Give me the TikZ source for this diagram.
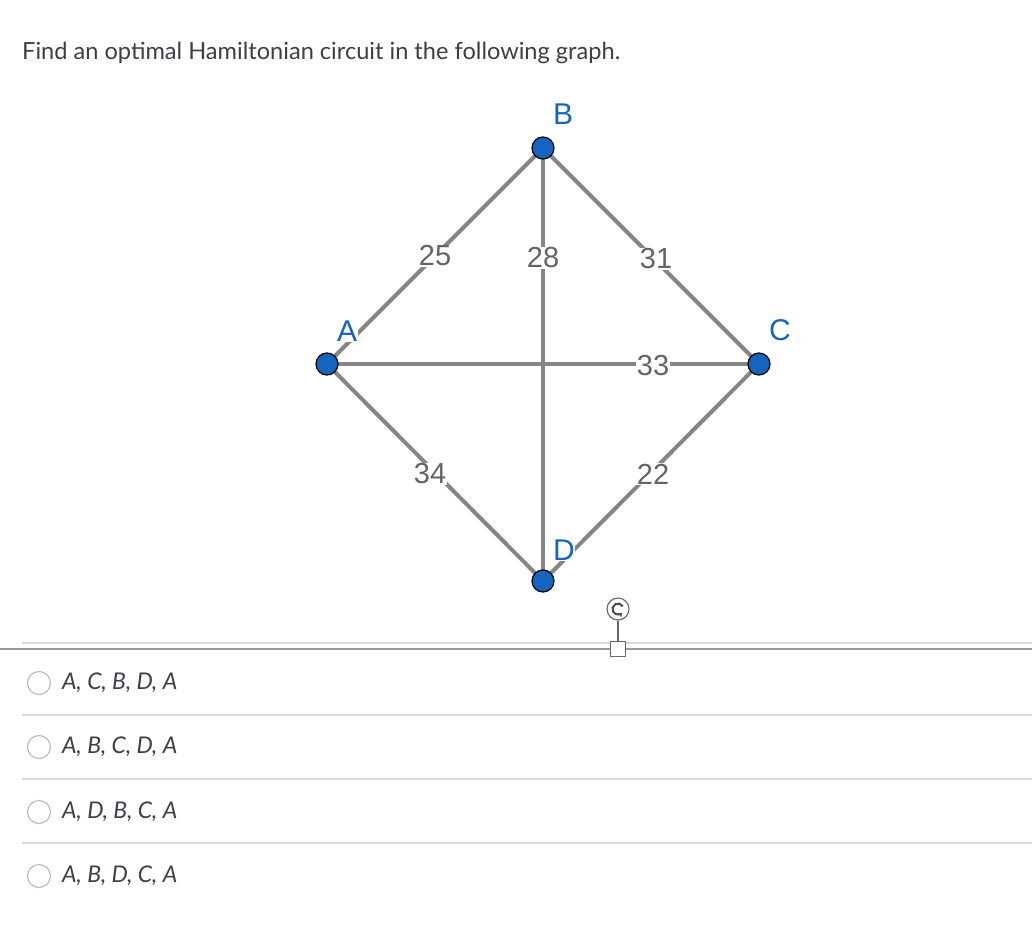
\documentclass[tikz,border=0pt]{standalone}
\usepackage{fontspec}
\usetikzlibrary{arrows.meta}
\setmainfont{Lato}
\newfontfamily\arialfont{Liberation Sans}
\definecolor{txt}{HTML}{3B4046}
\definecolor{vblue}{HTML}{1565C0}
\definecolor{edgegray}{HTML}{858585}
\definecolor{sepgray}{HTML}{D9D9D9}
\definecolor{radiogray}{HTML}{BDBDBD}
\tikzset{
  vertex/.style={circle,draw=black,line width=1.2pt,fill=vblue,minimum size=22pt,inner sep=0pt},
  vlabel/.style={text=vblue,fill=white,inner sep=0.5pt,font=\arialfont\fontsize{30}{32}\selectfont},
  elabel/.style={text=edgegray!75!black,fill=white,inner sep=0.5pt,font=\arialfont\fontsize{29}{31}\selectfont},
  edge/.style={draw=edgegray,line width=4pt},
  radio/.style={circle,draw=radiogray,line width=1.2pt,fill=white,minimum size=23pt,inner sep=0pt},
  option/.style={anchor=west,text=txt,inner sep=0pt,font=\fontsize{23}{27}\itshape\selectfont},
  sep/.style={draw=sepgray,line width=1.2pt}
}
\begin{document}
\begin{tikzpicture}[x=1pt,y=-1pt]
\useasboundingbox[fill=white] (0,0) rectangle (1032,936);
% title
\node[anchor=base west,inner sep=0pt,text=txt,font=\fontsize{23.6}{28}\selectfont] (title) at (22,60) {Find an optimal Hamiltonian circuit in the following graph.};
% vertices
\coordinate (pA) at (327,364);
\coordinate (pB) at (543,148);
\coordinate (pC) at (759,364);
\coordinate (pD) at (543,581);
% edges
\draw[edge] (pA) -- (pB);
\draw[edge] (pB) -- (pC);
\draw[edge] (pB) -- (pD);
\draw[edge] (pA) -- (pC);
\draw[edge] (pA) -- (pD);
\draw[edge] (pC) -- (pD);
% edge labels
\node[elabel] (l25) at (435,256) {25};
\node[elabel] (l28) at (543,258) {28};
\node[elabel] (l31) at (656,259) {31};
\node[elabel] (l33) at (653,366) {33};
\node[elabel] (l34) at (430,474) {34};
\node[elabel] (l22) at (653,474) {22};
% vertex labels
\node[vlabel] (tA) at (347,331) {A};
\node[vlabel] (tB) at (563,114) {B};
\node[vlabel] (tC) at (780,330) {C};
\node[vlabel] (tD) at (564,550) {D};
% vertex dots
\node[vertex] (A) at (pA) {};
\node[vertex] (B) at (pB) {};
\node[vertex] (C) at (pC) {};
\node[vertex] (D) at (pD) {};
% separators near widget
\draw[sep] (22,643) -- (1032,643);
\draw[draw=gray!80,line width=1.8pt] (0,649) -- (1032,649);
% rotate handle
\node[circle,draw=gray!85!black,line width=1.2pt,fill=white,minimum size=22pt,inner sep=0pt] (rot) at (618,609) {};
\draw[gray!60!black,line width=2pt,-{Stealth[length=4pt,width=6pt]}] ([shift={(30:5.5pt)}]rot.center) arc[start angle=30,end angle=315,radius=5.5pt];
\node[draw=gray!80!black,line width=1.2pt,fill=white,minimum size=15pt,inner sep=0pt] (handle) at (618,649) {};
\draw[gray!80!black,line width=1.2pt] (rot.south) -- (handle.north);
% options
\node[radio] (r1) at (39,683) {};
\node[option] (o1) at (62,683) {A, C, B, D, A};
\draw[sep] (22,715) -- (1032,715);
\node[radio] (r2) at (39,747) {};
\node[option] (o2) at (62,747) {A, B, C, D, A};
\draw[sep] (22,779) -- (1032,779);
\node[radio] (r3) at (39,812) {};
\node[option] (o3) at (62,812) {A, D, B, C, A};
\draw[sep] (22,843) -- (1032,843);
\node[radio] (r4) at (39,876) {};
\node[option] (o4) at (62,876) {A, B, D, C, A};
\end{tikzpicture}
\end{document}
